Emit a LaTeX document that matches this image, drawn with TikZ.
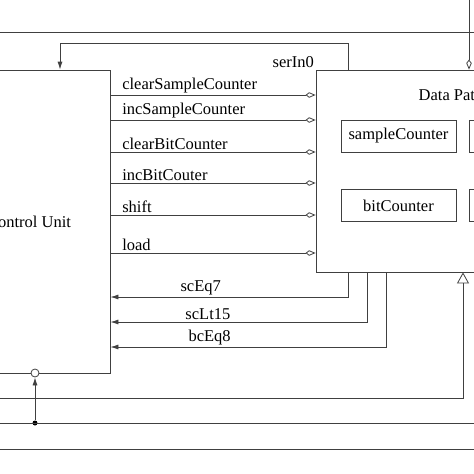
\documentclass[tikz,border=0pt]{standalone}
\usepackage{fontspec}
\setmainfont{Liberation Serif}
\usetikzlibrary{arrows.meta,positioning}
\tikzstyle{block} = [rectangle, draw=black!75, line width=0.8pt, inner sep=0pt]
\tikzstyle{line} = [draw=black!75, line width=0.8pt]
\tikzstyle{sig} = [line, -{Kite[open,length=10pt,width=5.5pt,inset=3.5pt]}]
\tikzstyle{ret} = [line, -{Latex[length=8pt,width=5pt]}]
\tikzstyle{lbl} = [inner sep=1.5pt, font=\fontsize{16.5}{19}\selectfont]

\begin{document}
\begin{tikzpicture}[x=1pt,y=-1pt]
    \useasboundingbox (0,0) rectangle (474,474);
    \clip (0,0) rectangle (474,474);
    % Place nodes
    \node[block, lbl, minimum width=162pt, minimum height=303pt] (cu) at (29,221.5) {Control Unit};
    \node[block, minimum width=284pt, minimum height=202pt] (dp) at (458,171) {};
    \node[lbl, anchor=west] (dpname) at (417,95) {Data Path};
    \node[block, lbl, minimum width=115pt, minimum height=32pt] (sc) at (398.5,136) {sampleCounter};
    \node[block, lbl, minimum width=115pt, minimum height=32pt] (bc) at (398.5,205.5) {bitCounter};
    \node[block, minimum width=115pt, minimum height=32pt, right=13pt of sc] (sc2) {};
    \node[block, minimum width=115pt, minimum height=32pt, right=13pt of bc] (bc2) {};
    \node[circle, draw=black!75, line width=0.8pt, fill=white, minimum size=8pt, inner sep=0pt] (rst) at (35,373) {};
    \node[circle, fill=black, minimum size=5pt, inner sep=0pt] (rdot) at (35,423) {};
    \coordinate (clkin) at (469,0);
    \coordinate (busa) at (0,32);
    \coordinate (busb) at (0,398);
    \coordinate (busc) at (0,423);
    \coordinate (busd) at (0,449);
    % Draw edges
    \path [sig] (cu.east |- 0,95) -- (dp.west |- 0,95) node[lbl, pos=0, anchor=south west, xshift=10pt] {clearSampleCounter};
    \path [sig] (cu.east |- 0,120) -- (dp.west |- 0,120) node[lbl, pos=0, anchor=south west, xshift=10pt] {incSampleCounter};
    \path [sig] (cu.east |- 0,152) -- (dp.west |- 0,152) node[lbl, pos=0, anchor=south west, xshift=10pt] {clearBitCounter};
    \path [sig] (cu.east |- 0,183) -- (dp.west |- 0,183) node[lbl, pos=0, anchor=south west, xshift=10pt] {incBitCouter};
    \path [sig] (cu.east |- 0,215) -- (dp.west |- 0,215) node[lbl, pos=0, anchor=south west, xshift=10pt] {shift};
    \path [sig] (cu.east |- 0,253) -- (dp.west |- 0,253) node[lbl, pos=0, anchor=south west, xshift=10pt] {load};
    \path [ret] (dp.north -| 348,0) -- ++(0,-26) -| (cu.north -| 60,0);
    \node[lbl, anchor=south east] (serin) at (dp.north west) {serIn0};
    \path [ret] (dp.south -| 348,0) |- (cu.east |- 0,297) node[lbl, pos=0.81, above] {scEq7};
    \path [ret] (dp.south -| 367,0) |- (cu.east |- 0,322) node[lbl, pos=0.81, above] {scLt15};
    \path [ret] (dp.south -| 386,0) |- (cu.east |- 0,347) node[lbl, pos=0.82, above] {bcEq8};
    \path [sig] (clkin) -- (dp.north -| clkin);
    \path [line] (busa) -- ++(474,0);
    \path [line, -{Triangle[open,length=11pt,width=12pt]}] (busb) -| (dp.south -| 463,0);
    \path [line] (busc) -- ++(474,0);
    \path [line] (busd) -- ++(474,0);
    \path [ret] (rdot) -- (rst);
\end{tikzpicture}
\end{document}
